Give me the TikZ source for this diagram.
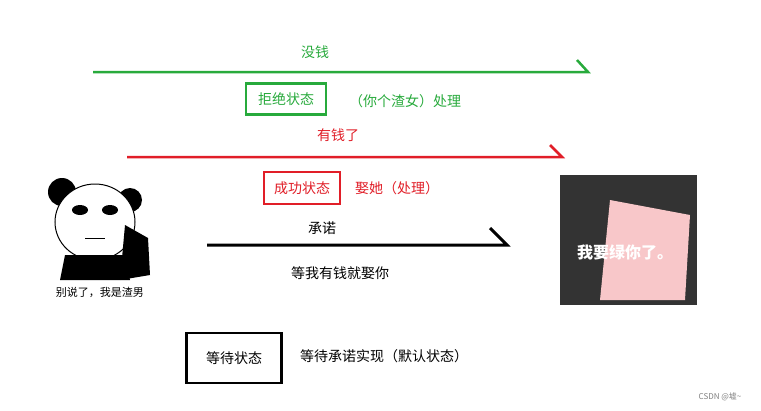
\documentclass[tikz,border=0pt]{standalone}
\usepackage{fontspec}
\newfontfamily\cjk{Noto Sans CJK SC}
\definecolor{gr}{RGB}{40,170,60}
\definecolor{rd}{RGB}{225,30,40}
\tikzset{lbl/.style={font=\cjk\fontsize{14}{16}\selectfont,inner sep=0pt},
 statebox/.style={draw,line width=2.5pt,inner sep=0pt,font=\cjk\fontsize{14}{16}\selectfont},
 flow/.style={line width=2.5pt}}
\begin{document}
\begin{tikzpicture}[x=1pt,y=-1pt]
\useasboundingbox[fill=white] (0,0) rectangle (761,410);
% green
\coordinate (g1) at (93,72); \coordinate (g2) at (588,72); \coordinate (g3) at (577,60);
\draw[flow,gr] (g1) -- (g2) -- (g3);
\node[lbl,gr] (t1) at (315,52) {没钱};
\node[statebox,gr,text=gr,minimum width=80pt,minimum height=31pt] (s1) at (286,99) {拒绝状态};
\node[lbl,gr] (t2) at (405,101) {（你个渣女）处理};
% red
\coordinate (r1) at (127,157); \coordinate (r2) at (562,157); \coordinate (r3) at (550,145);
\draw[flow,rd] (r1) -- (r2) -- (r3);
\node[lbl,rd] (t3) at (338,135) {有钱了};
\node[statebox,rd,text=rd,minimum width=76pt,minimum height=32pt] (s2) at (302,188) {成功状态};
\node[lbl,rd] (t4) at (397,188) {娶她（处理）};
% black
\coordinate (b1) at (207,245); \coordinate (b2) at (507,245); \coordinate (b3) at (490,228);
\draw[flow,line width=3pt] (b1) -- (b2) -- (b3);
\node[lbl] (t5) at (322,228) {承诺};
\node[lbl] (t6) at (340,273) {等我有钱就娶你};
\node[statebox,minimum width=95pt,minimum height=50pt] (s3) at (234,358) {等待状态};
\node[lbl] (t7) at (384,356) {等待承诺实现（默认状态）};
% panda
\fill (62,192) circle (14); \fill (130,200) circle (12);
\draw[fill=white,line width=1pt] (95,222) ellipse (40 and 38);
\fill (80,210) ellipse (8 and 5); \fill (110,210) ellipse (8 and 5);
\draw[line width=1pt] (85,238) -- (105,238);
\fill (125,225) -- (148,238) -- (150,275) -- (120,280) -- cycle;
\fill (65,255) -- (125,255) -- (130,280) -- (60,280) -- cycle;
\node[lbl,font=\cjk\fontsize{11}{13}\selectfont] (t8) at (100,292) {别说了，我是渣男};
% girl
\fill[black!80] (560,175) rectangle (697,305);
\fill[rd!25] (610,200) -- (690,215) -- (685,300) -- (600,300) -- cycle;
\node[lbl,white,font=\cjk\bfseries\fontsize{16}{18}\selectfont] (t9) at (625,252) {我要绿你了。};
\node[lbl,gray,font=\cjk\fontsize{8}{10}\selectfont] (t10) at (720,397) {CSDN @墟\textasciitilde};
\end{tikzpicture}
\end{document}
